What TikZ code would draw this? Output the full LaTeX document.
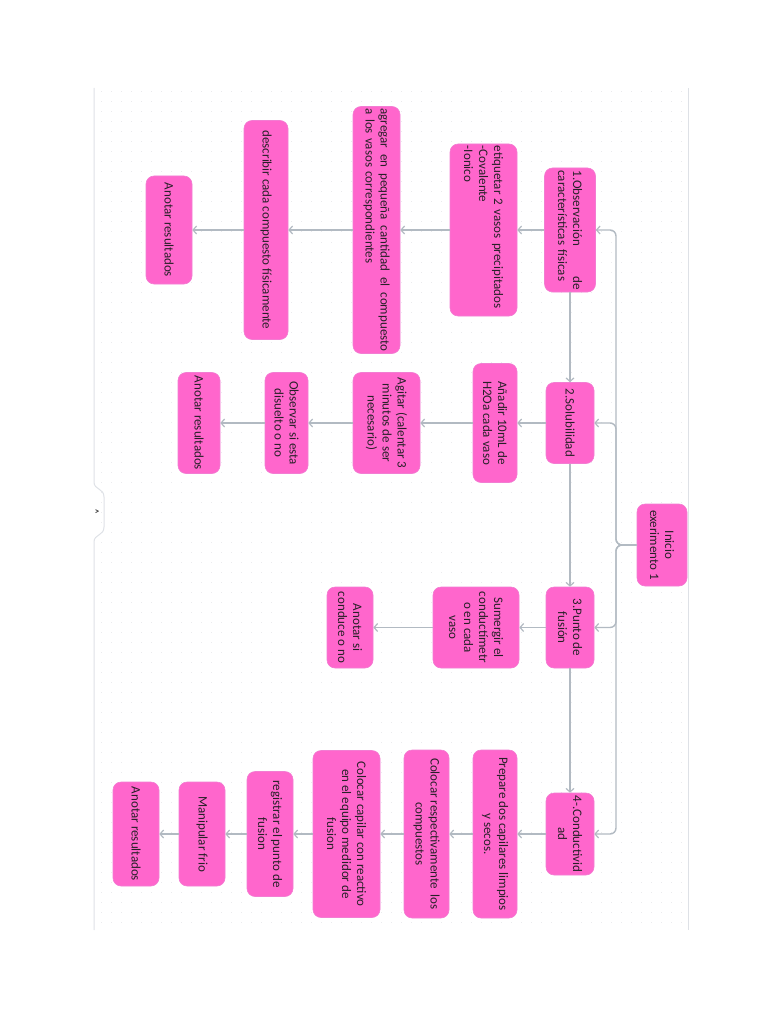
\documentclass[tikz,border=0pt]{standalone}
\usepackage{fontspec}
\setmainfont{Carlito}
\usetikzlibrary{arrows.meta}
\definecolor{boxpink}{RGB}{255,102,204}
\definecolor{boxedge}{RGB}{242,125,210}
\definecolor{linegray}{RGB}{178,186,194}
\definecolor{txt}{RGB}{40,32,40}
\definecolor{framegray}{RGB}{222,225,230}
\definecolor{dotgray}{RGB}{234,234,237}
\tikzset{
  box/.style={draw=boxedge, line width=0.6pt, fill=boxpink, rounded corners=8pt,
    rotate=-90, align=center, text=txt, font=\fontsize{13}{15}\selectfont, inner sep=1.5pt},
  arr/.style={draw=linegray, line width=1.4pt,
    -{Straight Barb[length=3.5pt,width=8pt,line width=1.2pt]}},
  framel/.style={draw=framegray, line width=1pt},
}
\begin{document}
\begin{tikzpicture}[x=1pt,y=-1pt]
\useasboundingbox (0,0) rectangle (768,1024);
% dotted background
\foreach \yy in {92,102,...,922} \draw[dotgray, line width=1pt, dash pattern=on 1pt off 9pt] (101,\yy) -- (686,\yy);
% frame
\draw[framel] (94,88) -- (94,482) .. controls (94,490) and (104,488) .. (104,497) -- (104,527) .. controls (104,536) and (94,534) .. (94,542) -- (94,930);
\draw[framel] (688,88) -- (688,930);
\node[font=\bfseries\fontsize{9}{9}\selectfont, text=black!80] (tab) at (97,512) {>};

% start
\node[box, minimum width=82pt, minimum height=50pt] (ini) at (662,545) {Inicio\\exerimento 1};

% main column
\node[box, minimum width=124pt, minimum height=51pt, text width=119pt, align=left] (m1) at (570,230) {1.Observación\hfill de\\características físicas};
\node[box, minimum width=81pt, minimum height=48pt] (m2) at (570,423) {2.Solubilidad};
\node[box, minimum width=81pt, minimum height=48pt] (m3) at (570,627.5) {3.Punto de\\fusión};
\node[box, minimum width=82pt, minimum height=48pt] (m4) at (570,834) {4-.Conductivid\\ad};

% row 1
\node[box, minimum width=172pt, minimum height=67pt, text width=168pt, align=left] (r1a) at (483.5,230) {etiquetar 2 vasos precipitados\\-Covalente\\-Ionico};
\node[box, minimum width=247pt, minimum height=47pt, text width=243pt, align=left] (r1b) at (376.5,230) {agregar \hfill en \hfill pequeña \hfill cantidad \hfill el \hfill compuesto\\a los vasos correspondientes};
\node[box, minimum width=219pt, minimum height=44pt] (r1c) at (266,230) {describir cada compuesto físicamente};
\node[box, minimum width=108pt, minimum height=46pt] (r1d) at (169,230) {Anotar resultados};

% row 2
\node[box, minimum width=119pt, minimum height=44pt] (r2a) at (495,423) {Añadir 10mL de\\H2Oa cada vaso};
\node[box, minimum width=101pt, minimum height=67pt] (r2b) at (386.5,423) {Agitar (calentar 3\\minutos de ser\\necesario)};
\node[box, minimum width=101pt, minimum height=43pt] (r2c) at (286.5,423) {Observar si esta\\disuelto o no};
\node[box, minimum width=101pt, minimum height=42pt] (r2d) at (199,423) {Anotar resultados};

% row 3
\node[box, minimum width=81pt, minimum height=86pt] (r3a) at (476,627.5) {Sumergir el\\conductímetr\\o en cada\\vaso};
\node[box, minimum width=81pt, minimum height=46pt] (r3b) at (350,627.5) {Anotar si\\conduce o no};

% row 4
\node[box, minimum width=168pt, minimum height=44pt] (r4a) at (495,834) {Prepare dos capilares limpios\\y secos.};
\node[box, minimum width=168pt, minimum height=45pt] (r4b) at (426.5,834) {Colocar respectivamente\ \ los\\compuestos};
\node[box, minimum width=167pt, minimum height=67pt] (r4c) at (346.5,834) {Colocar capilar con reactivo\\en el equipo medidor de\\fusion};
\node[box, minimum width=125pt, minimum height=46pt] (r4d) at (270,834) {registrar el punto de\\fusion};
\node[box, minimum width=104pt, minimum height=46pt] (r4e) at (202,834) {Manipular frio};
\node[box, minimum width=104pt, minimum height=46pt] (r4f) at (136,834) {Anotar resultados};

% bracket from start
\coordinate (sp) at (616,545);
\foreach \m in {m1,m2,m3,m4}
  \draw[arr, rounded corners=6pt] (ini.south) -- (sp) |- (\m.north);

% main column connectors
\draw[arr] (m1.east) -- (m2.west);
\draw[arr] (m2.east) -- (m3.west);
\draw[arr] (m3.east) -- (m4.west);

% row connectors
\draw[arr] (m1.south) -- (r1a.north);
\draw[arr] (r1a.south) -- (r1b.north);
\draw[arr] (r1b.south) -- (r1c.north);
\draw[arr] (r1c.south) -- (r1d.north);

\draw[arr] (m2.south) -- (r2a.north);
\draw[arr] (r2a.south) -- (r2b.north);
\draw[arr] (r2b.south) -- (r2c.north);
\draw[arr] (r2c.south) -- (r2d.north);

\draw[arr] (m3.south) -- (r3a.north);
\draw[arr] (r3a.south) -- (r3b.north);

\draw[arr] (m4.south) -- (r4a.north);
\draw[arr] (r4a.south) -- (r4b.north);
\draw[arr] (r4b.south) -- (r4c.north);
\draw[arr] (r4c.south) -- (r4d.north);
\draw[arr] (r4d.south) -- (r4e.north);
\draw[arr] (r4e.south) -- (r4f.north);
\end{tikzpicture}
\end{document}
